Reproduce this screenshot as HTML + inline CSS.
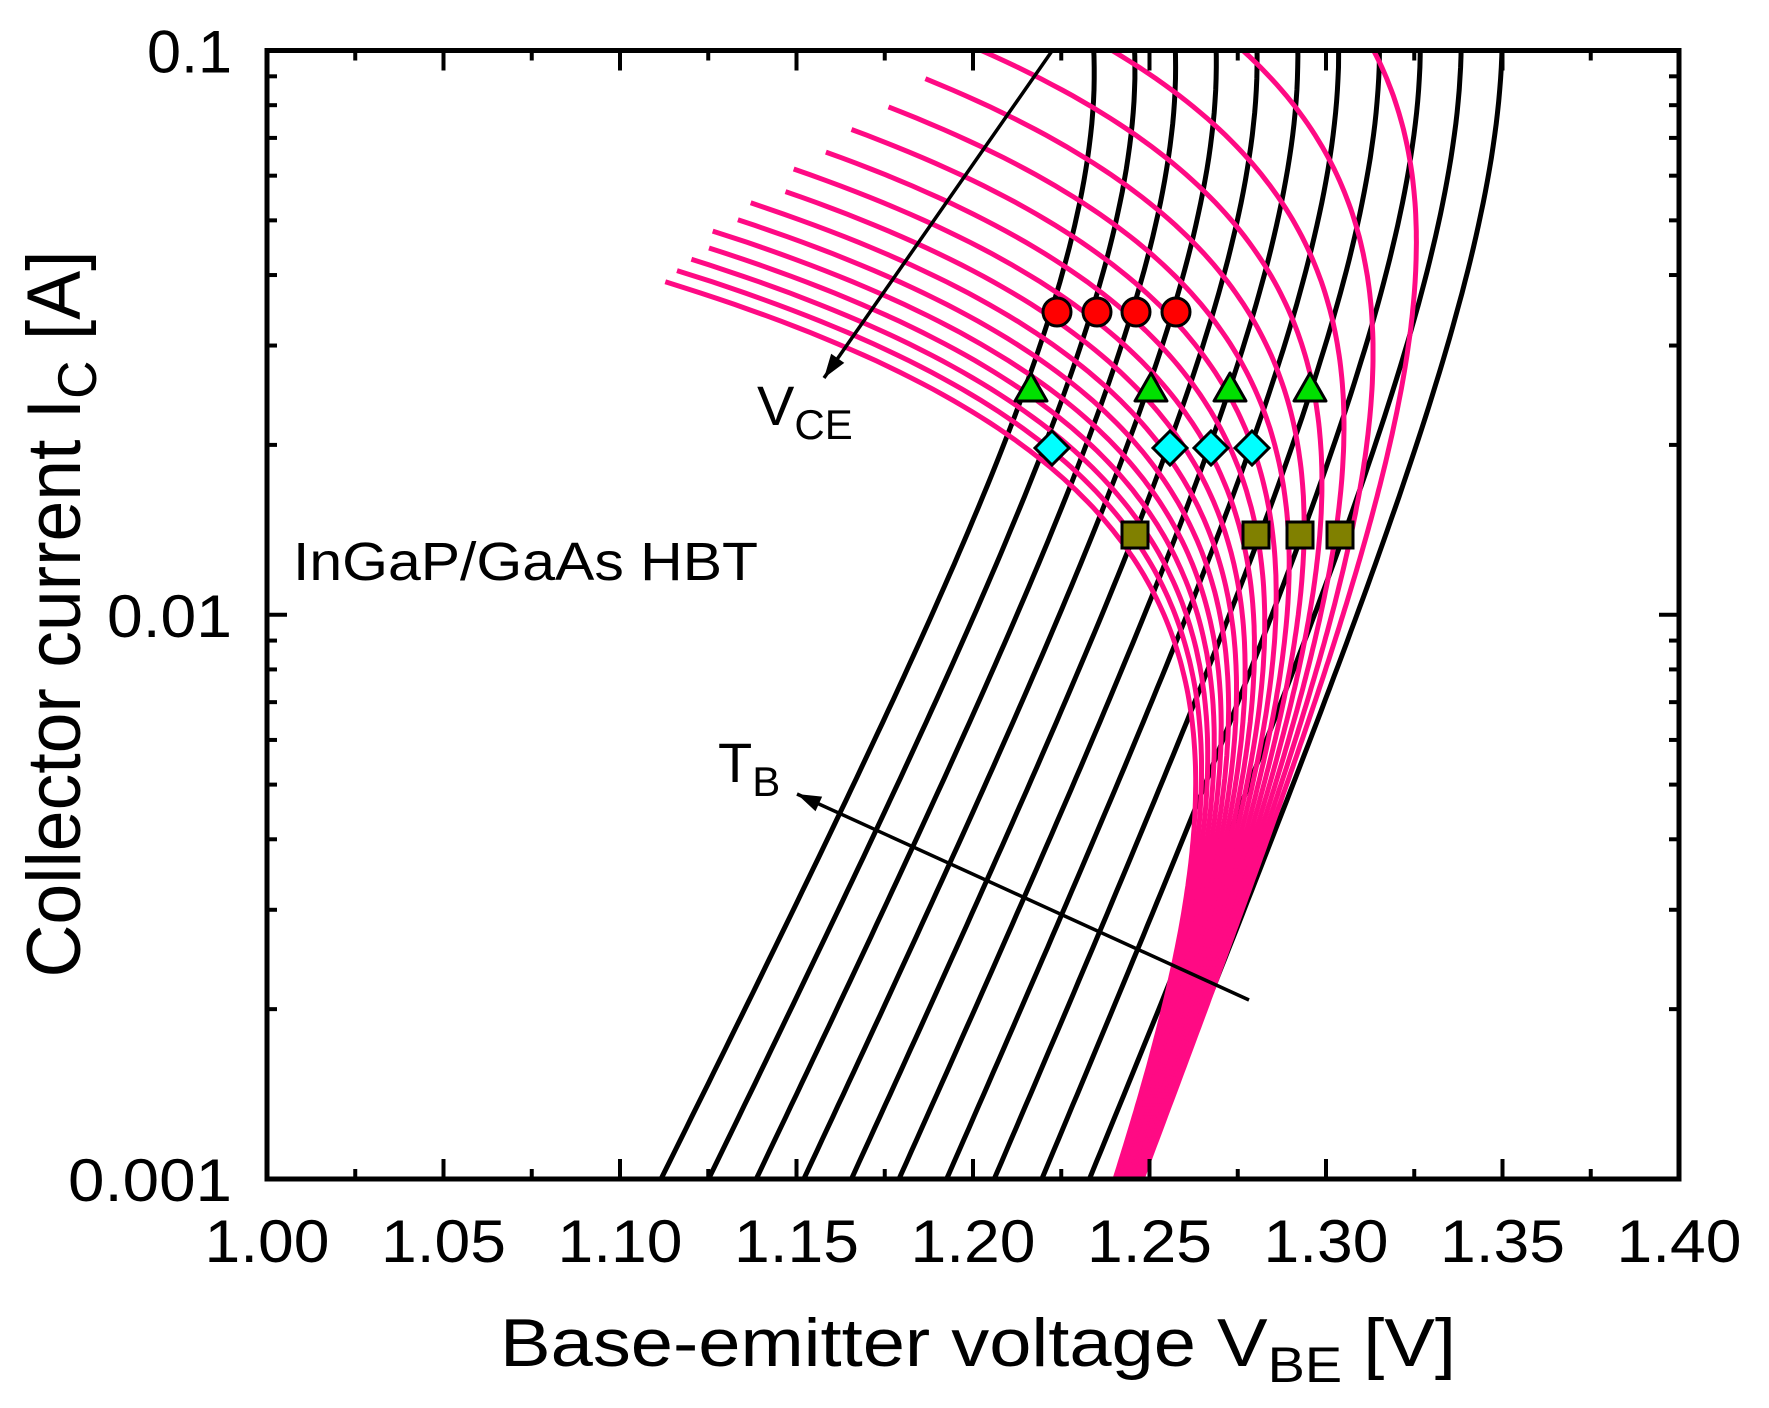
<!DOCTYPE html>
<html><head><meta charset="utf-8"><style>
html,body{margin:0;padding:0;background:#fff;}
svg{display:block;font-family:"Liberation Sans",Arial,sans-serif;}
</style></head><body>
<svg id="s" width="1769" height="1408" viewBox="0 0 1769 1408" xmlns="http://www.w3.org/2000/svg">
<g id="curves"></g>
<g id="over"></g>
</svg>
<script>
(function(){
var NS="http://www.w3.org/2000/svg";
var s=document.getElementById('s'),cg=document.getElementById('curves'),og=document.getElementById('over');
function el(t,a,p){var e=document.createElementNS(NS,t);for(var k in a)e.setAttribute(k,a[k]);(p||s).appendChild(e);return e;}
var L=267,R=1679,T=50.5,B=1179,DEC=(B-T)/2;
function yd(d){return B-d*DEC;}
var defs=el('defs',{});var cp=el('clipPath',{id:'c'},defs);el('rect',{x:L,y:T,width:R-L,height:B-T},cp);
cg.setAttribute('clip-path','url(#c)');
for(var k=0;k<11;k++){
  var xb=661+47.6*k,p=283+(228.3-283)*k/10,c=1.346+(0.926-1.346)*k/10;
  var pts=[];
  for(var d=-0.05;d<=2.06;d+=0.02){pts.push((xb+p*d-c*(Math.pow(10,d)-1)).toFixed(1)+','+yd(d).toFixed(1));}
  el('polyline',{points:pts.join(' '),fill:'none',stroke:'#000','stroke-width':5},cg);
}
var N=17,g=1.1,pp=215.7,f1=Math.pow(10,g)-1;
for(var j=0;j<N;j++){
  var x0=1115+27*j/(N-1),x1=1164+(1343-1164)*j/(N-1);
  var c=(x0+pp-x1)/f1;
  var pts=[];
  for(var d=-0.05;d<=2.1;d+=0.01){
    var x=x0+pp*d-c*(Math.pow(10,g*d)-1),y=yd(d);
    var xl=650+(280-y)*(285/224);
    if(d>1.2&&x<xl)break;
    pts.push(x.toFixed(1)+','+y.toFixed(1));
  }
  el('polyline',{points:pts.join(' '),fill:'none',stroke:'#ff0a84','stroke-width':5},cg);
}
function arrow(x1,y1,x2,y2){
  el('line',{x1:x1,y1:y1,x2:x2,y2:y2,stroke:'#000','stroke-width':3.5},og);
  var a=Math.atan2(y2-y1,x2-x1),l=24,w=8;
  var bx=x2-l*Math.cos(a),by=y2-l*Math.sin(a);
  var px=-Math.sin(a)*w,py=Math.cos(a)*w;
  el('polygon',{points:x2+','+y2+' '+(bx+px)+','+(by+py)+' '+(bx-px)+','+(by-py)},og);
}
arrow(1052,51,824,378);
arrow(1249,1000,797,794);
[1057,1097,1136,1176].forEach(function(x){el('circle',{cx:x,cy:312,r:14,fill:'#ff0000',stroke:'#000','stroke-width':3},og);});
[1031,1151,1230,1310].forEach(function(x){el('polygon',{points:x+',373 '+(x-16)+',401 '+(x+16)+',401',fill:'#00e000',stroke:'#000','stroke-width':3,'stroke-linejoin':'round'},og);});
[1052,1170,1211,1252].forEach(function(x){el('polygon',{points:x+',431 '+(x+17)+',448 '+x+',465 '+(x-17)+',448',fill:'#00ffff',stroke:'#000','stroke-width':3},og);});
[1135,1256,1300,1340].forEach(function(x){el('rect',{x:x-13,y:522,width:26,height:26,fill:'#808000',stroke:'#000','stroke-width':3},og);});
el('rect',{x:L,y:T,width:R-L,height:B-T,fill:'none',stroke:'#000','stroke-width':5});
for(var i=0;i<=16;i++){
  var x=L+i*88.25,len=(i%2==0)?20:10;
  el('line',{x1:x,y1:B,x2:x,y2:B-len,stroke:'#000','stroke-width':4});
  el('line',{x1:x,y1:T,x2:x,y2:T+len,stroke:'#000','stroke-width':4});
  if(i%2==0){var t=el('text',{x:x,y:1262,'font-size':60,'text-anchor':'middle',textLength:125,lengthAdjust:'spacingAndGlyphs'});t.textContent=(1+i*0.025).toFixed(2);}
}
for(var dd=0;dd<2;dd++){for(var m=1;m<=10;m++){
  if(m==10&&dd==0)continue;
  var y=yd(dd+Math.log10(m)),len=(m==1||m==10)?20:10;
  el('line',{x1:L,y1:y,x2:L+len,y2:y,stroke:'#000','stroke-width':4});
  el('line',{x1:R,y1:y,x2:R-len,y2:y,stroke:'#000','stroke-width':4});
}}
var yl=[['0.001',B,164],['0.01',yd(1),125],['0.1',yd(2),85]];
yl.forEach(function(a){var t=el('text',{x:232,y:a[1]+22,'font-size':60,'text-anchor':'end',textLength:a[2],lengthAdjust:'spacingAndGlyphs'});t.textContent=a[0];});
})();
</script>
<svg width="1769" height="1408" style="position:absolute;left:0;top:0" xmlns="http://www.w3.org/2000/svg" font-family="Liberation Sans, Arial, sans-serif">
<text x="978" y="1366" font-size="68" text-anchor="middle" textLength="956" lengthAdjust="spacingAndGlyphs">Base-emitter voltage V<tspan font-size="50" dy="16">BE</tspan><tspan dy="-16"> [V]</tspan></text>
<text transform="translate(80,614) rotate(-90) scale(0.965,1)" font-size="76" text-anchor="middle">Collector current I<tspan font-size="55" dy="16">C</tspan><tspan dy="-16"> [A]</tspan></text>
<text x="293" y="580" font-size="54" textLength="465" lengthAdjust="spacingAndGlyphs">InGaP/GaAs HBT</text>
<text x="757" y="425" font-size="56">V<tspan font-size="42" dy="14">CE</tspan></text>
<text x="718" y="782" font-size="56">T<tspan font-size="42" dy="14">B</tspan></text>
</svg>
</body></html>
